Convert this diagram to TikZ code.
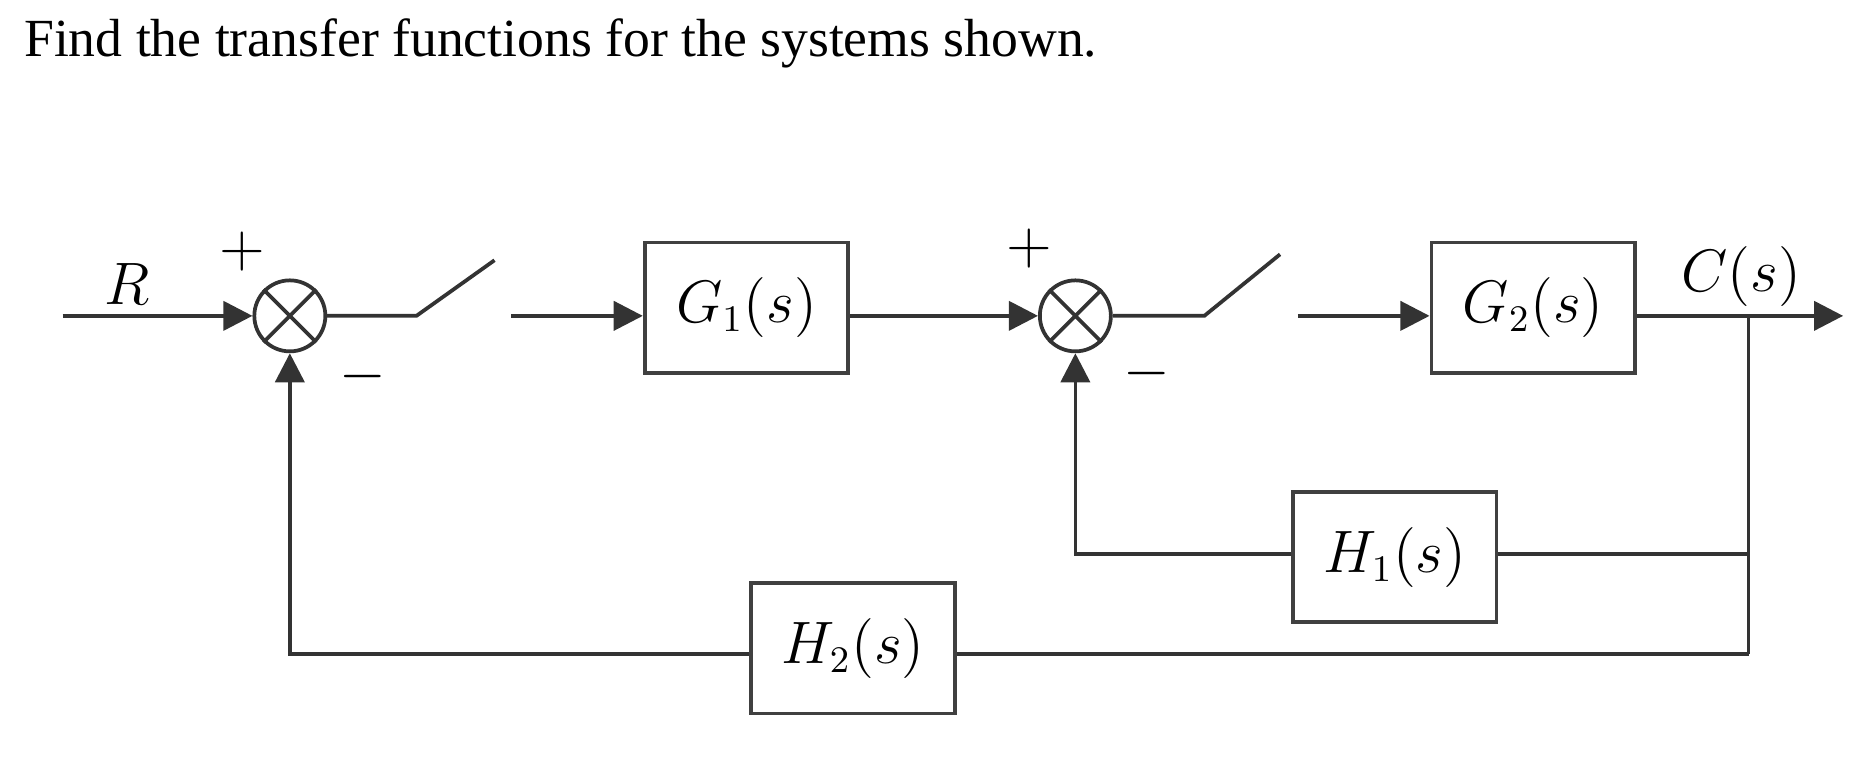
\documentclass[tikz,border=0pt]{standalone}
\usepackage{fontspec}
\setmainfont{Liberation Serif}
\usetikzlibrary{arrows.meta}
\begin{document}
\begin{tikzpicture}[x=0.01cm,y=-0.01cm,
  ln/.style={line width=0.9pt,draw=black!80},
  ar/.style={ln,-{Triangle[length=7pt,width=7pt]}},
  blk/.style={draw=black!75,line width=0.9pt,minimum width=1.72cm,minimum height=1.1cm,inner sep=0pt,font=\fontsize{13.5}{16}\selectfont},
  sum/.style={circle,draw=black!80,line width=0.9pt,minimum size=0.6cm,inner sep=0pt},
  lab/.style={font=\fontsize{13.5}{16}\selectfont}]
\useasboundingbox (0,0) rectangle (1568,640);
\node[anchor=base west,font=\fontsize{12.9}{15}\selectfont] (title) at (8,48) {Find the transfer functions for the systems shown.};
\coordinate (in) at (53,267);
\node[sum] (s1) at (245,267) {};
\draw[ln] (s1.45)--(s1.225) (s1.135)--(s1.315);
\node[sum] (s2) at (909,267) {};
\draw[ln] (s2.45)--(s2.225) (s2.135)--(s2.315);
\node[blk] (g1) at (631,260) {$G_1(s)$};
\node[blk] (g2) at (1296,260) {$G_2(s)$};
\node[blk] (h1) at (1179,471) {$H_1(s)$};
\node[blk] (h2) at (721,548) {$H_2(s)$};
\coordinate (sw1a) at (352,267); \coordinate (sw1b) at (418,220); \coordinate (sw1c) at (432,267);
\coordinate (sw2a) at (1018,267); \coordinate (sw2b) at (1082,215); \coordinate (sw2c) at (1097,267);
\coordinate (out) at (1558,267);
\coordinate (br) at (1478,267);
\coordinate (bh1) at (1478,468);
\coordinate (bh2) at (1478,553);
\node[lab] (R) at (107,240) {$R$};
\node[lab] (C) at (1472,234) {$C(s)$};
\node[lab] (p1) at (205,213) {$\mathbf{+}$};
\node[lab] (m1) at (307,318) {$\mathbf{-}$};
\node[lab] (p2) at (870,210) {$\mathbf{+}$};
\node[lab] (m2) at (969,316) {$\mathbf{-}$};
\draw[ar] (in) -- (s1);
\draw[ln] (s1) -- (sw1a) -- (sw1b);
\draw[ar] (sw1c) -- (g1.west |- sw1c);
\draw[ar] (g1.east |- s2) -- (s2);
\draw[ln] (s2) -- (sw2a) -- (sw2b);
\draw[ar] (sw2c) -- (g2.west |- sw2c);
\draw[ar] (g2.east |- out) -- (out);
\draw[ln] (br) -- (bh2);
\draw[ln] (bh1) -- (h1.east |- bh1);
\draw[ar] (h1.west |- bh1) -| (s2);
\draw[ln] (bh2) -- (h2.east |- bh2);
\draw[ar] (h2.west |- bh2) -| (s1);
\end{tikzpicture}
\end{document}
